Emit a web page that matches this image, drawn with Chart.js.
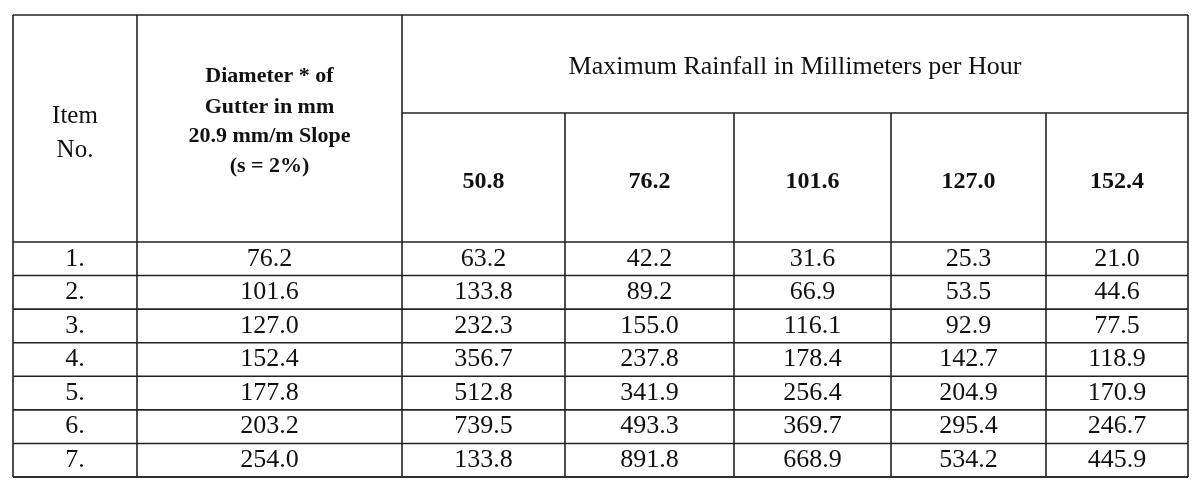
<!DOCTYPE html>
<html>
<head>
<meta charset="utf-8">
<script src="https://cdn.jsdelivr.net/npm/chart.js@4"></script>
<style>
  html, body { margin: 0; padding: 0; background: #fff; }
  #wrap { width: 1204px; height: 484px; }
</style>
</head>
<body>
<div id="wrap"><canvas id="myChart"></canvas></div>
<script>
// data
const itemNo = ["1.", "2.", "3.", "4.", "5.", "6.", "7."];
const diameters = ["76.2", "101.6", "127.0", "152.4", "177.8", "203.2", "254.0"];
const rainfall = ["50.8", "76.2", "101.6", "127.0", "152.4"];
const r508 = [63.2, 133.8, 232.3, 356.7, 512.8, 739.5, 133.8];
const r762 = [42.2, 89.2, 155.0, 237.8, 341.9, 493.3, 891.8];
const r1016 = [31.6, 66.9, 116.1, 178.4, 256.4, 369.7, 668.9];
const r1270 = [25.3, 53.5, 92.9, 142.7, 204.9, 295.4, 534.2];
const r1524 = [21.0, 44.6, 77.5, 118.9, 170.9, 246.7, 445.9];
const seriesList = [r508, r762, r1016, r1270, r1524];

// layout (pixel units on the x/y scales)
const colEdges = [13, 137, 402, 565, 734, 891, 1046, 1188];
const tblTop = 15, subLine = 113, headBottom = 242, tblBottom = 477;
const rowH = (tblBottom - headBottom) / itemNo.length;

const points = [];
seriesList.forEach(function (s, c) {
  s.forEach(function (v, r) {
    points.push({ x: (colEdges[c + 2] + colEdges[c + 3]) / 2, y: headBottom + rowH * (r + 0.5), v: v });
  });
});

const tablePlugin = {
  id: "table",
  afterDatasetsDraw(chart) {
    const ctx = chart.ctx;
    const xs = chart.scales.x, ys = chart.scales.y;
    const X = (v) => xs.getPixelForValue(v);
    const Y = (v) => ys.getPixelForValue(v);
    ctx.save();
    ctx.strokeStyle = "#222";
    ctx.lineWidth = 1.6;
    const line = (x1, y1, x2, y2) => {
      ctx.beginPath(); ctx.moveTo(X(x1), Y(y1)); ctx.lineTo(X(x2), Y(y2)); ctx.stroke();
    };
    const L = colEdges[0], R = colEdges[colEdges.length - 1];
    line(L, tblTop, R, tblTop);
    line(L, tblBottom, R, tblBottom);
    line(colEdges[2], subLine, R, subLine);
    for (let i = 0; i <= itemNo.length; i++) line(L, headBottom + rowH * i, R, headBottom + rowH * i);
    colEdges.forEach(function (x, i) {
      const y0 = (i >= 3 && i < colEdges.length - 1) ? subLine : tblTop;
      line(x, y0, x, tblBottom);
    });

    ctx.fillStyle = "#111";
    ctx.textAlign = "center";
    ctx.textBaseline = "middle";
    const text = (t, x, y) => ctx.fillText(t, X(x), Y(y));
    const cx = (i) => (colEdges[i] + colEdges[i + 1]) / 2;

    ctx.font = "25px 'Liberation Serif'";
    text("Item", cx(0), 116);
    text("No.", cx(0), 150);
    ctx.font = "bold 22px 'Liberation Serif'";
    text("Diameter * of", cx(1), 76);
    text("Gutter in mm", cx(1), 107);
    text("20.9 mm/m Slope", cx(1), 136);
    text("(s = 2%)", cx(1), 166);
    ctx.font = "26px 'Liberation Serif'";
    text("Maximum Rainfall in Millimeters per Hour", (colEdges[2] + R) / 2, 67);
    ctx.font = "bold 24px 'Liberation Serif'";
    rainfall.forEach(function (t, i) { text(t, cx(i + 2), 182); });

    ctx.font = "26px 'Liberation Serif'";
    itemNo.forEach(function (t, r) {
      const y = headBottom + rowH * (r + 0.5);
      text(t, cx(0), y);
      text(diameters[r], cx(1), y);
    });
    chart.data.datasets[0].data.forEach(function (p) { text(p.v.toFixed(1), p.x, p.y); });
    ctx.restore();
  },
};

new Chart(document.querySelector("#myChart"), {
  type: "scatter",
  data: { datasets: [{ data: points, pointRadius: 0, pointHoverRadius: 0 }] },
  options: {
    responsive: true,
    maintainAspectRatio: false,
    animation: false,
    layout: { padding: 0 },
    plugins: { legend: { display: false }, tooltip: { enabled: false } },
    scales: {
      x: { type: "linear", min: 0, max: 1204, display: false },
      y: { type: "linear", min: 0, max: 484, reverse: true, display: false },
    },
  },
  plugins: [tablePlugin],
});
</script>
</body>
</html>
